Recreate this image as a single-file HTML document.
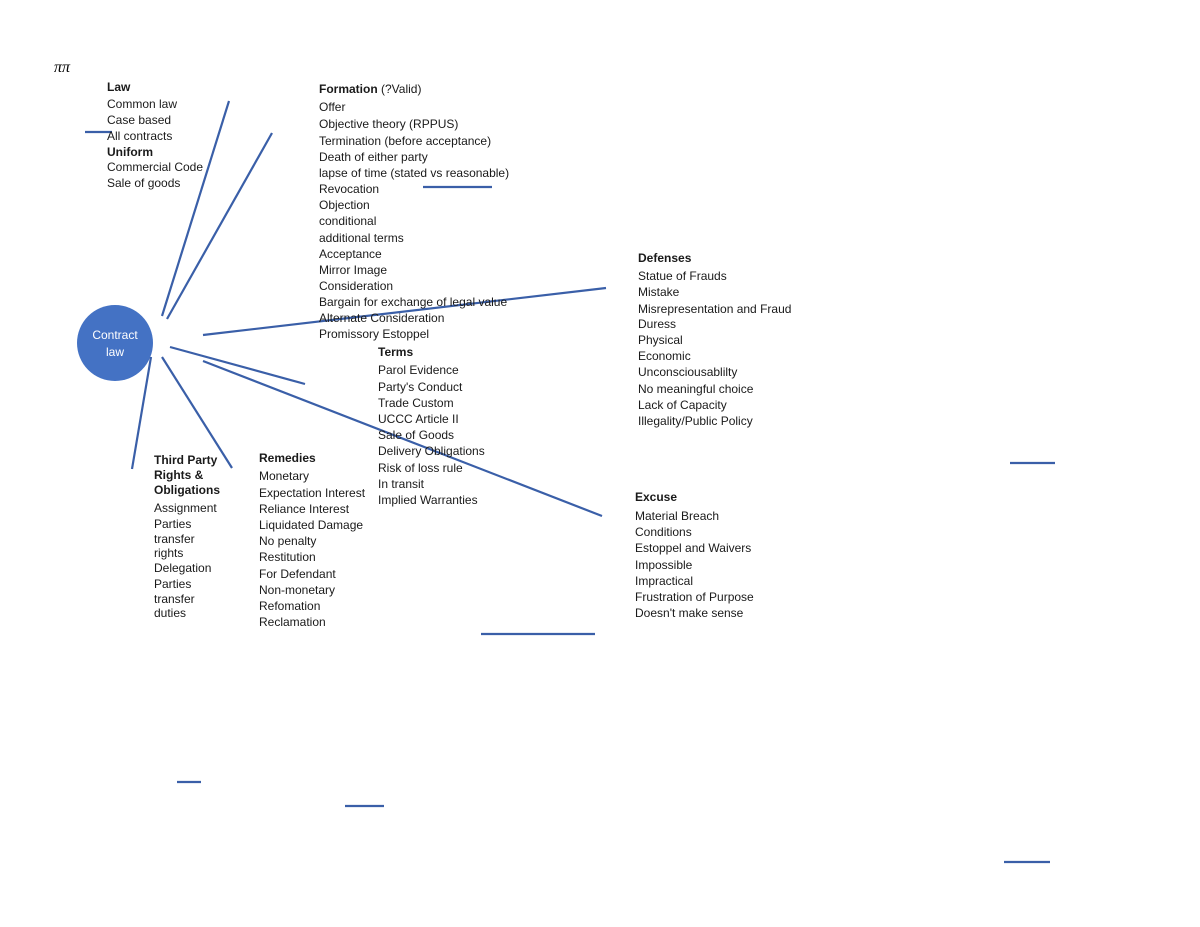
<!DOCTYPE html>
<html><head><meta charset="utf-8"><style>
body{margin:0;width:1200px;height:927px;background:#fff;position:relative;overflow:hidden;font-family:"Liberation Sans",sans-serif;color:#1a1a1a}
.t{position:absolute;font-size:12px;line-height:14px;white-space:nowrap}
.b{font-weight:bold}
svg{position:absolute;left:0;top:0}
</style></head><body>
<svg width="1200" height="927">
<circle cx="115" cy="343" r="38" fill="#4472c4"/>
<g stroke="#3a5fa8" stroke-width="2.2" fill="none">
<line x1="162" y1="316" x2="229" y2="101"/>
<line x1="167" y1="319" x2="272" y2="133"/>
<line x1="203" y1="335" x2="606" y2="288"/>
<line x1="170" y1="347" x2="305" y2="384"/>
<line x1="203" y1="361" x2="602" y2="516"/>
<line x1="162" y1="357" x2="232" y2="468"/>
<line x1="151" y1="357" x2="132" y2="469"/>
<line x1="85" y1="132" x2="112" y2="132"/>
<line x1="423" y1="187" x2="492" y2="187"/>
<line x1="1010" y1="463" x2="1055" y2="463"/>
<line x1="481" y1="634" x2="595" y2="634"/>
<line x1="177" y1="782" x2="201" y2="782"/>
<line x1="345" y1="806" x2="384" y2="806"/>
<line x1="1004" y1="862" x2="1050" y2="862"/>
</g>
<text x="115" y="339" fill="#fff" font-size="12" text-anchor="middle" font-family="Liberation Sans">Contract</text>
<text x="115" y="356" fill="#fff" font-size="12" text-anchor="middle" font-family="Liberation Sans">law</text>
<text x="54" y="72" font-size="16" font-style="italic" font-family="Liberation Serif">ππ</text>
</svg>
<div class="t b" style="left:107px;top:80px">Law</div>
<div class="t" style="left:107px;top:97px">Common law</div>
<div class="t" style="left:107px;top:113px">Case based</div>
<div class="t" style="left:107px;top:129px">All contracts</div>
<div class="t b" style="left:107px;top:145px">Uniform</div>
<div class="t" style="left:107px;top:160px">Commercial Code</div>
<div class="t" style="left:107px;top:176px">Sale of goods</div>

<div class="t" style="left:319px;top:82px"><b>Formation</b> (?Valid)</div>
<div class="t" style="left:319px;top:100px">Offer</div>
<div class="t" style="left:319px;top:117px">Objective theory (RPPUS)</div>
<div class="t" style="left:319px;top:134px">Termination (before acceptance)</div>
<div class="t" style="left:319px;top:150px">Death of either party</div>
<div class="t" style="left:319px;top:166px">lapse of time (stated vs reasonable)</div>
<div class="t" style="left:319px;top:182px">Revocation</div>
<div class="t" style="left:319px;top:198px">Objection</div>
<div class="t" style="left:319px;top:214px">conditional</div>
<div class="t" style="left:319px;top:231px">additional terms</div>
<div class="t" style="left:319px;top:247px">Acceptance</div>
<div class="t" style="left:319px;top:263px">Mirror Image</div>
<div class="t" style="left:319px;top:279px">Consideration</div>
<div class="t" style="left:319px;top:295px">Bargain for exchange of legal value</div>
<div class="t" style="left:319px;top:311px">Alternate Consideration</div>
<div class="t" style="left:319px;top:327px">Promissory Estoppel</div>

<div class="t b" style="left:378px;top:345px">Terms</div>
<div class="t" style="left:378px;top:363px">Parol Evidence</div>
<div class="t" style="left:378px;top:380px">Party's Conduct</div>
<div class="t" style="left:378px;top:396px">Trade Custom</div>
<div class="t" style="left:378px;top:412px">UCCC Article II</div>
<div class="t" style="left:378px;top:428px">Sale of Goods</div>
<div class="t" style="left:378px;top:444px">Delivery Obligations</div>
<div class="t" style="left:378px;top:461px">Risk of loss rule</div>
<div class="t" style="left:378px;top:477px">In transit</div>
<div class="t" style="left:378px;top:493px">Implied Warranties</div>

<div class="t b" style="left:638px;top:251px">Defenses</div>
<div class="t" style="left:638px;top:269px">Statue of Frauds</div>
<div class="t" style="left:638px;top:285px">Mistake</div>
<div class="t" style="left:638px;top:302px">Misrepresentation and Fraud</div>
<div class="t" style="left:638px;top:317px">Duress</div>
<div class="t" style="left:638px;top:333px">Physical</div>
<div class="t" style="left:638px;top:349px">Economic</div>
<div class="t" style="left:638px;top:365px">Unconsciousablilty</div>
<div class="t" style="left:638px;top:382px">No meaningful choice</div>
<div class="t" style="left:638px;top:398px">Lack of Capacity</div>
<div class="t" style="left:638px;top:414px">Illegality/Public Policy</div>

<div class="t b" style="left:635px;top:490px">Excuse</div>
<div class="t" style="left:635px;top:509px">Material Breach</div>
<div class="t" style="left:635px;top:525px">Conditions</div>
<div class="t" style="left:635px;top:541px">Estoppel and Waivers</div>
<div class="t" style="left:635px;top:558px">Impossible</div>
<div class="t" style="left:635px;top:574px">Impractical</div>
<div class="t" style="left:635px;top:590px">Frustration of Purpose</div>
<div class="t" style="left:635px;top:606px">Doesn't make sense</div>

<div class="t b" style="left:154px;top:453px">Third Party</div>
<div class="t b" style="left:154px;top:468px">Rights &amp;</div>
<div class="t b" style="left:154px;top:483px">Obligations</div>
<div class="t" style="left:154px;top:501px">Assignment</div>
<div class="t" style="left:154px;top:517px">Parties</div>
<div class="t" style="left:154px;top:532px">transfer</div>
<div class="t" style="left:154px;top:546px">rights</div>
<div class="t" style="left:154px;top:561px">Delegation</div>
<div class="t" style="left:154px;top:577px">Parties</div>
<div class="t" style="left:154px;top:592px">transfer</div>
<div class="t" style="left:154px;top:606px">duties</div>

<div class="t b" style="left:259px;top:451px">Remedies</div>
<div class="t" style="left:259px;top:469px">Monetary</div>
<div class="t" style="left:259px;top:486px">Expectation Interest</div>
<div class="t" style="left:259px;top:502px">Reliance Interest</div>
<div class="t" style="left:259px;top:518px">Liquidated Damage</div>
<div class="t" style="left:259px;top:534px">No penalty</div>
<div class="t" style="left:259px;top:550px">Restitution</div>
<div class="t" style="left:259px;top:567px">For Defendant</div>
<div class="t" style="left:259px;top:583px">Non-monetary</div>
<div class="t" style="left:259px;top:599px">Refomation</div>
<div class="t" style="left:259px;top:615px">Reclamation</div>
</body></html>
